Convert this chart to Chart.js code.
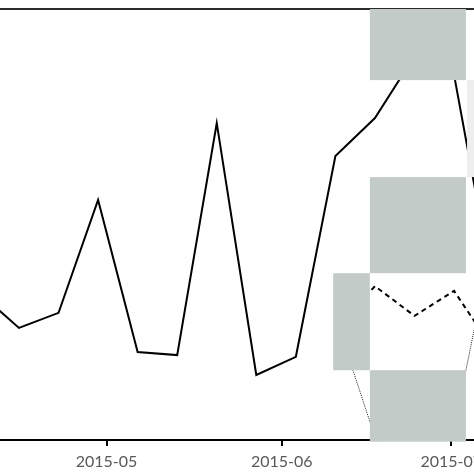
<!DOCTYPE html>
<html>
<head>
<meta charset="utf-8">
<script src="https://cdn.jsdelivr.net/npm/chart.js@4.4.1/dist/chart.umd.min.js"></script>
<style>
  html, body { margin: 0; padding: 0; background: #fff; }
  #wrap { width: 474px; height: 474px; position: relative; }
</style>
</head>
<body>
<div id="wrap"><canvas id="chart"></canvas></div>
<script>
  // weekly observations
  const mainDates = ['2015-04-08', '2015-04-15', '2015-04-22', '2015-04-29', '2015-05-06', '2015-05-13', '2015-05-20',
                     '2015-05-27', '2015-06-03', '2015-06-10', '2015-06-17', '2015-06-24', '2015-07-01', '2015-07-08'];
  const mainValues = [34.1, 26.0, 29.5, 55.7, 20.4, 19.7, 73.5, 15.1, 19.3, 65.9, 74.7, 89.1, 84.7, 34.8];

  const subDates = ['2015-06-10', '2015-06-17', '2015-06-24', '2015-07-01', '2015-07-08'];
  const dashedValues = [25.5, 35.7, 28.8, 34.6, 20.9];
  const dottedValues = [28.5, 0.7, 0.5, 2.6, 47.8];

  const tickDates = ['2015-05-01', '2015-06-01', '2015-07-01'];
  const tickLabels = ['2015-05', '2015-06', '2015-07'];

  // grey shaded cells: day-of-year range and value range
  const cellStart = [167.6, 167.6, 161.1, 167.6, 184.8];
  const cellEnd   = [184.6, 184.6, 167.6, 184.6, 186.1];
  const cellLow   = [83.5, 38.7, 16.2, -0.4, 61.0];
  const cellHigh  = [100, 61.0, 38.7, 16.2, 83.5];
  const cellTone  = ['dark', 'dark', 'dark', 'dark', 'light'];

  function dayOf(s) {
    const p = s.split('-').map(Number);
    return (Date.UTC(p[0], p[1] - 1, p[2]) - Date.UTC(p[0], 0, 0)) / 86400000;
  }
  // observations sit at mid-day
  const pts = (dates, vals) => dates.map((d, i) => ({ x: dayOf(d) + 0.5, y: vals[i] }));
  const tickDays = tickDates.map(dayOf);

  const cellPlugin = {
    id: 'cells',
    afterDraw(chart) {
      const { ctx } = chart;
      const xs = chart.scales.x, ys = chart.scales.y;
      ctx.save();
      cellStart.forEach((s, i) => {
        const x0 = xs.getPixelForValue(s);
        const x1 = xs.getPixelForValue(cellEnd[i]);
        const y0 = ys.getPixelForValue(cellHigh[i]);
        const y1 = ys.getPixelForValue(cellLow[i]);
        ctx.fillStyle = cellTone[i] === 'dark' ? '#c3cbc9' : '#eeeeee';
        ctx.fillRect(x0, y0, x1 - x0, y1 - y0);
      });
      ctx.restore();
    }
  };

  const noPad = s => { s.paddingLeft = 0; s.paddingRight = 0; };

  new Chart(document.getElementById('chart'), {
    type: 'line',
    data: {
      datasets: [
        {
          data: pts(mainDates, mainValues),
          borderColor: '#000',
          borderWidth: 2,
          pointRadius: 0,
          tension: 0
        },
        {
          data: pts(subDates, dashedValues),
          borderColor: '#000',
          borderWidth: 2,
          borderDash: [5, 4],
          pointRadius: 0,
          tension: 0
        },
        {
          data: pts(subDates, dottedValues),
          borderColor: '#222',
          borderWidth: 1,
          borderDash: [1, 1],
          pointRadius: 0,
          tension: 0
        }
      ]
    },
    options: {
      responsive: true,
      maintainAspectRatio: false,
      animation: false,
      layout: { padding: { top: 9, left: 0, right: 0, bottom: 0 } },
      plugins: { legend: { display: false }, tooltip: { enabled: false } },
      scales: {
        x: {
          type: 'linear',
          position: 'bottom',
          min: 102.14,
          max: 186.03,
          afterBuildTicks: s => { s.ticks = tickDays.map(v => ({ value: v })); },
          afterFit: s => { noPad(s); s.height = 34; },
          grid: { display: true, drawOnChartArea: false, drawTicks: true, tickLength: 6, color: '#000', lineWidth: 2 },
          border: { display: true, color: '#000', width: 2 },
          ticks: {
            autoSkip: false,
            maxRotation: 0,
            padding: 6,
            color: '#595959',
            font: { family: 'Lato', size: 16 },
            callback: (v) => tickLabels[tickDays.indexOf(v)]
          }
        },
        xTop: {
          type: 'linear',
          position: 'top',
          min: 102.14,
          max: 186.03,
          afterFit: s => { noPad(s); s.height = 0; },
          grid: { display: true, drawOnChartArea: false, drawTicks: false },
          border: { display: true, color: '#2a2a2a', width: 2 },
          ticks: { display: false }
        },
        y: {
          display: false,
          min: 0,
          max: 100
        }
      }
    },
    plugins: [cellPlugin]
  });
</script>
</body>
</html>
